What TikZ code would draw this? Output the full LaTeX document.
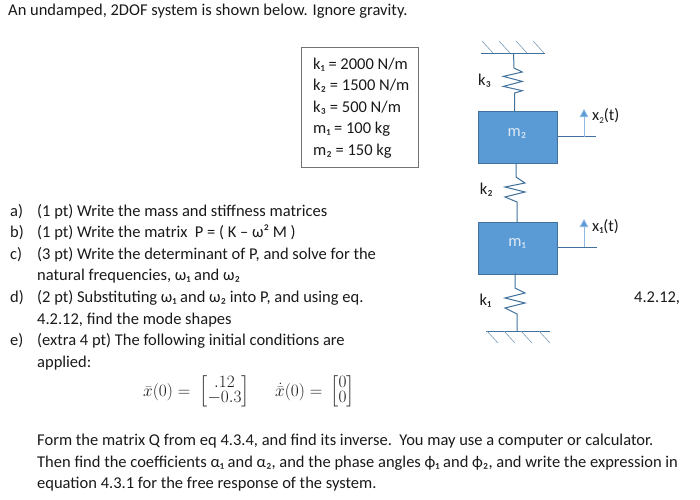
\documentclass[tikz,border=0pt]{standalone}
\usepackage{amsmath}
\usepackage{fontspec}
\setmainfont{Carlito}
\usetikzlibrary{arrows.meta}
\definecolor{massfill}{HTML}{5B9BD5}
\definecolor{massedge}{HTML}{41719C}
\definecolor{masstext}{HTML}{DCE9F5}
\tikzset{
    txtline/.style={anchor=base west, inner sep=0pt, font=\fontsize{16.5}{18}\selectfont, text=black!90},
    symlabel/.style={inner sep=0pt, font=\fontsize{16.5}{18}\selectfont, text=black!90},
    mathline/.style={inner sep=0pt, text=black!90, font=\fontsize{16}{13}\selectfont},
    massbox/.style={rectangle, draw=massedge, fill=massfill, line width=1pt, minimum width=79pt, minimum height=52pt, inner sep=0pt},
    springline/.style={draw=massedge, line width=1pt},
    hatchline/.style={draw=massedge!70, line width=0.6pt},
    arrowline/.style={draw=massfill!70, line width=0.8pt, -{Triangle[width=8.5pt,length=8pt,fill=massfill]}}
}
\begin{document}
\begin{tikzpicture}[x=1pt,y=-1pt]
    \useasboundingbox (0,0) rectangle (700,499);
    % text above the picture
    \node[txtline](title)at(8,15){An undamped, 2DOF system is shown below. Ignore gravity.};
    \node[rectangle, draw=black!55, line width=0.8pt, anchor=north west, minimum width=117pt, minimum height=120pt, inner sep=0pt](databox)at(301,47){};
    \node[txtline](dk1)at(313,69){k₁ = 2000 N/m};
    \node[txtline](dk2)at(313,90.5){k₂ = 1500 N/m};
    \node[txtline](dk3)at(313,112){k₃ = 500 N/m};
    \node[txtline](dm1)at(313,133.5){m₁ = 100 kg};
    \node[txtline](dm2)at(313,155){m₂ = 150 kg};

    % masses
    \node[massbox, anchor=north west](m2)at(478,111){};
    \node[massbox, anchor=north west](m1)at(478,222){};
    \node[symlabel, text=masstext](m2txt)at(517,133){m₂};
    \node[symlabel, text=masstext](m1txt)at(517,243){m₁};

    % ceiling and floor
    \coordinate(ceilL)at(481,53);
    \coordinate(ceilR)at(545,53);
    \coordinate(floorL)at(486,331);
    \coordinate(floorR)at(550,331);
    \draw[springline](ceilL)--(ceilR);
    \draw[springline](floorL)--(floorR);
    \foreach \hx in {482,499,516,533}
        \draw[hatchline](\hx,41)--++(11,12);
    \foreach \hx in {487,504,521,539}
        \draw[hatchline](\hx,331)--++(11,12);

    % springs
    \coordinate(k3top)at(513.5,53);
    \coordinate(k3bot)at(514.7,111);
    \coordinate(k2top)at(516,163);
    \coordinate(k2bot)at(517,222);
    \coordinate(k1top)at(515,273);
    \coordinate(k1bot)at(517,331);
    \draw[springline](k3top)--++(0.5,15)--++(8.3,4)--++(-19,4.4)--++(19,5)--++(-19,5)--++(19,4.3)--++(-7.6,2.3)--(k3bot);
    \draw[springline](k2top)--++(0,14)--++(9,6)--++(-20,4)--++(20,5)--++(-20,5)--++(12,5)--(k2bot);
    \draw[springline](k1top)--++(0,15)--++(10,5)--++(-20,5)--++(20,5)--++(-20,5)--++(12,6)--(k1bot);
    \node[symlabel](k3)at(484.5,81){k₃};
    \node[symlabel](k2)at(486.5,190){k₂};
    \node[symlabel](k1)at(485.5,301){k₁};

    % displacement arrows
    \coordinate(x2end)at(596,136.5);
    \coordinate(x1end)at(597,247);
    \coordinate(x2foot)at(584,136.5);
    \coordinate(x1foot)at(584,247);
    \coordinate(x2tip)at(584,109);
    \coordinate(x1tip)at(584,219);
    \draw[springline](m2.east|-x2end)--(x2end);
    \draw[springline](m1.east|-x1end)--(x1end);
    \draw[arrowline](x2foot)--(x2tip);
    \draw[arrowline](x1foot)--(x1tip);
    \node[txtline](x2lbl)at(592,120){x\raisebox{-3pt}{\fontsize{9}{9}\selectfont 2}(t)};
    \node[txtline](x1lbl)at(592,231){x₁(t)};
    \node[txtline](ref)at(634,302){4.2.12,};

    % questions
    \node[txtline](qa)at(10,216){a)};
    \node[txtline](qat)at(37,216){(1 pt) Write the mass and stiffness matrices};
    \node[txtline](qb)at(10,237.5){b)};
    \node[txtline](qbt)at(37,237.5){(1 pt) Write the matrix\ \ P = ( K -- ω² M )};
    \node[txtline](qc)at(10,259){c)};
    \node[txtline](qct)at(37,259){(3 pt) Write the determinant of P, and solve for the};
    \node[txtline](qct2)at(37,280.5){natural frequencies, ω₁ and ω₂};
    \node[txtline](qd)at(10,302){d)};
    \node[txtline](qdt)at(37,302){(2 pt) Substituting ω₁ and ω₂ into P, and using eq.};
    \node[txtline](qdt2)at(37,324){4.2.12, find the mode shapes};
    \node[txtline](qe)at(10,345.5){e)};
    \node[txtline](qet)at(37,345.5){(extra 4 pt) The following initial conditions are};
    \node[txtline](qet2)at(37,367){applied:};

    % initial conditions
    \node[mathline, anchor=west](ic1)at(143,392){$\bar{x}(0)=$};
    \node[mathline](ic1m)at(224.5,391){$\begin{bmatrix}.12\\-0.3\end{bmatrix}$};
    \node[mathline, anchor=west](ic2)at(275,392){$\dot{\bar{x}}(0)=$};
    \node[mathline](ic2m)at(342.5,391){$\begin{bmatrix}0\\0\end{bmatrix}$};

    % closing text
    \node[txtline](fa)at(37,445){Form the matrix Q from eq 4.3.4, and find its inverse.\ \ You may use a computer or calculator.};
    \node[txtline](fb)at(37,467){Then find the coefficients α₁ and α₂, and the phase angles ϕ₁ and ϕ₂, and write the expression in};
    \node[txtline](fc)at(37,488){equation 4.3.1 for the free response of the system.};
\end{tikzpicture}
\end{document}
